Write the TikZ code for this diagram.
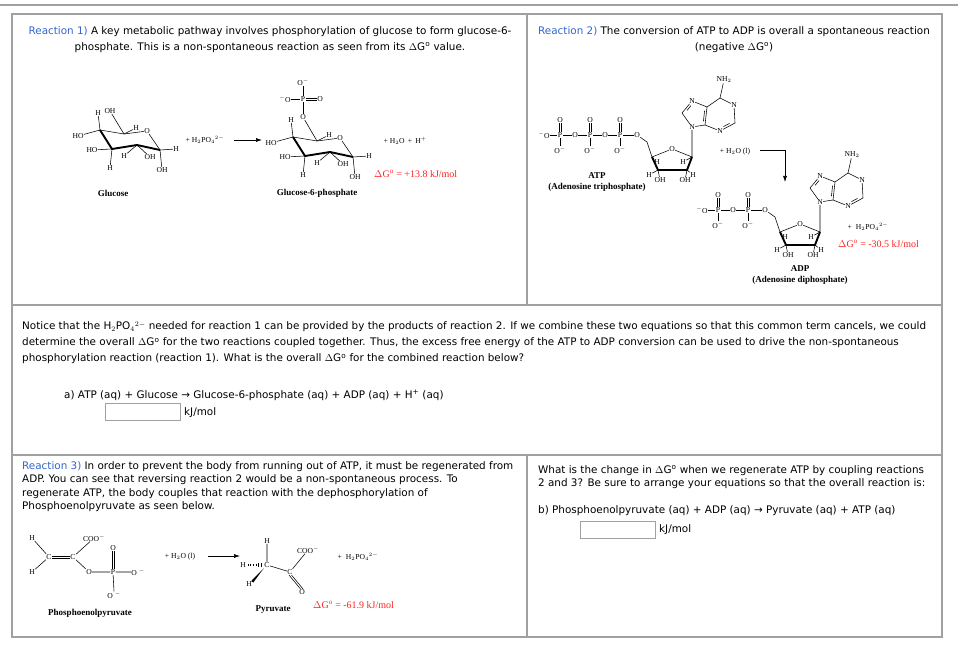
\documentclass[tikz,border=0pt]{standalone}
\usepackage{fontspec}
\setmainfont{DejaVu Sans}
\newfontfamily\ser{Liberation Serif}
\usetikzlibrary{arrows.meta,calc}
\definecolor{rblue}{HTML}{3366CC}
\definecolor{rred}{HTML}{FF2222}
\definecolor{cellg}{HTML}{A0A0A0}
\tikzset{
 txt/.style={font=\fontsize{10.4}{16}\selectfont, anchor=west, inner sep=0, align=left},
 cell/.style={draw=cellg, line width=1.6pt},
 atm/.style={font=\ser\fontsize{7.6}{8}\selectfont, inner sep=0.3pt},
 lab/.style={font=\ser\bfseries\fontsize{9}{10.5}\selectfont, inner sep=0, align=center},
 dg/.style={font=\ser\fontsize{10}{11}\selectfont, text=rred, inner sep=0, anchor=west},
 bd/.style={line width=0.55pt},
 bold/.style={line width=1.9pt},
 ans/.style={draw=cellg, line width=0.6pt, minimum width=75pt, minimum height=17pt, inner sep=0},
 arr/.style={-{Latex[length=6pt,width=4pt]}, line width=0.6pt}
}
\newcommand\glucring[1]{%
 \coordinate (c4) at (0,0); \coordinate (c3) at (12,19); \coordinate (c2) at (37,15);
 \coordinate (c1) at (60,20); \coordinate (c5) at (24,4);
 \node[atm] (ro) at (47,1) {O};
 \draw[bd] (c1) -- (ro) -- (c5) -- (c4);
 \draw[bold,line join=round] (c4) -- (c3) -- (c2) -- (c1);
 \node[atm] (h4) at (-2,-17) {H}; \draw[bd] (c4) -- (h4);
 \node[atm] (ho4) at (-22,6) {HO}; \draw[bd] (c4) -- (ho4);
 \node[atm] (ho3) at (-8,20) {HO}; \draw[bd] (c3) -- (ho3);
 \node[atm] (h3) at (10,38) {H}; \draw[bd] (c3) -- (h3);
 \node[atm] (h2) at (24,26) {H}; \draw[bd] (c2) -- (h2);
 \node[atm] (oh2) at (50,27) {OH}; \draw[bd] (c2) -- (oh2);
 \node[atm] (h1) at (76,19) {H}; \draw[bd] (c1) -- (h1);
 \node[atm] (oh1) at (62,40) {OH}; \draw[bd] (c1) -- (oh1);
 \node[atm] (h5) at (36,-2) {H}; \draw[bd] (c5) -- (h5);
 #1}
\newcommand\nucleo[1]{%
 \coordinate (r4) at (-20,8); \node[atm] (ro) at (0,0) {O}; \coordinate (r1) at (20,8);
 \coordinate (r2) at (15,21); \coordinate (r3) at (-14,21); \coordinate (r5) at (-25,-7);
 \draw[bd] (r4) -- (ro) -- (r1); \draw[bold,line join=round] (r1) -- (r2) -- (r3) -- (r4);
 \node[atm] (hh1) at (-15,13) {H}; \node[atm] (hh2) at (11,13) {H};
 \node[atm] (hh3) at (-23,26) {H}; \node[atm] (hh4) at (21,26) {H};
 \draw[bd] (r4) -- (hh1); \draw[bd] (r1) -- (hh2); \draw[bd] (r3) -- (hh3); \draw[bd] (r2) -- (hh4);
 \node[atm] (oh3) at (-12,31) {OH}; \node[atm] (oh2) at (13,31) {OH};
 \draw[bd] (r3) -- (oh3); \draw[bd] (r2) -- (oh2);
 \node[atm] (oe) at (-35,-14) {O}; \draw[bd] (r4) -- (r5) -- (oe);
 \coordinate (n9) at (20,-22);
 \coordinate (c8) at (10,-36); \coordinate (n7) at (20,-48); \coordinate (c5) at (35,-42);
 \coordinate (c4) at (33,-24); \coordinate (c6) at (48,-51); \coordinate (n1) at (62,-44);
 \coordinate (c2) at (63,-26); \coordinate (n3) at (48,-18);
 \node[atm] (N9) at (n9) {N}; \node[atm] (N7) at (n7) {N};
 \node[atm] (N1) at (n1) {N}; \node[atm] (N3) at (n3) {N};
 \node[atm] (nh) at (52,-69) {NH$_2$};
 \draw[bd] (r1) -- (N9) -- (c8) -- (N7) -- (c5) -- (c6) -- (N1) -- (c2) -- (N3) -- (c4) -- (c5);
 \draw[bd] (c4) -- (N9); \draw[bd] (c6) -- (nh);
 \draw[bd] ($(c8)!0.3!(n7)+(2,1)$) -- ($(c8)!0.7!(n7)+(2,1)$);
 \draw[bd] ($(c4)!0.2!(c5)+(-2,0)$) -- ($(c4)!0.8!(c5)+(-2,0)$);
 \draw[bd] ($(c2)!0.3!(n3)+(-1,-2)$) -- ($(c2)!0.7!(n3)+(-1,-2)$);
 \foreach \i/\px in {1/-52,2/-82,3/-112}{
  \ifnum\i>#1\relax\else
   \node[atm] (p\i) at (\px,-14) {P};
   \node[atm] (pt\i) at (\px,-29) {O}; \node[atm] (pb\i) at (\px,1) {O$^{-}$};
   \draw[bd] ($(p\i.north)+(-1,0)$) -- ($(pt\i.south)+(-1,0)$);
   \draw[bd] ($(p\i.north)+(1,0)$) -- ($(pt\i.south)+(1,0)$);
   \draw[bd] (p\i) -- (pb\i);
  \fi}
 \draw[bd] (oe) -- (p1);
 \ifnum#1>1 \node[atm] (ob1) at (-67,-14) {O}; \draw[bd] (p1) -- (ob1) -- (p2);\fi
 \ifnum#1>2 \node[atm] (ob2) at (-97,-14) {O}; \draw[bd] (p2) -- (ob2) -- (p3);\fi
 \node[atm] (om) at (-38-30*#1,-14) {$^{-}$O}; \draw[bd] (om) -- (p#1);
}
\begin{document}
\begin{tikzpicture}[x=1pt,y=-1pt]
\useasboundingbox (0,0) rectangle (958,647);
\fill[white] (0,0) rectangle (958,647);
% table
\draw[draw=cellg, line width=1.2pt] (0,5) -- (958,5);
\draw[cell] (12,14) rectangle (527,305);
\draw[cell] (527,14) rectangle (942,305);
\draw[cell] (12,305) rectangle (942,455);
\draw[cell] (12,455) rectangle (527,637);
\draw[cell] (527,455) rectangle (942,637);
% top text
\node[txt, align=center, anchor=north] (t1) at (270,26) {\textcolor{rblue}{Reaction 1)} A key metabolic pathway involves phosphorylation of glucose to form glucose-6-\\phosphate. This is a non-spontaneous reaction as seen from its $\Delta$G\textsuperscript{o} value.};
\node[txt, align=center, anchor=north] (t2) at (734,26) {\textcolor{rblue}{Reaction 2)} The conversion of ATP to ADP is overall a spontaneous reaction\\(negative $\Delta$G\textsuperscript{o})};
% glucose
\begin{scope}[shift={(100,130)}]\glucring{\node[atm] (oh6) at (10,-19) {OH}; \draw[bd] (c5) -- (oh6);}\end{scope}
\node[lab] (glc) at (113,193) {Glucose};
\node[atm] (pl1) at (205,140) {+ H$_2$PO$_4$$^{2-}$};
\coordinate (a1s) at (234,140); \coordinate (a1e) at (262,140);
\draw[arr] (a1s) -- (a1e);
\begin{scope}[shift={(293,137)}]\glucring{\node[atm] (o6) at (10,-20) {O}; \draw[bd] (c5) -- (o6);
 \node[atm] (pp) at (10,-38) {P}; \node[atm] (pu) at (10,-55) {O$^{-}$};
 \node[atm] (pl) at (-8,-38) {$^{-}$O}; \node[atm] (pr) at (27,-38) {O};
 \draw[bd] (o6) -- (pp) -- (pu); \draw[bd] (pl) -- (pp);
 \draw[bd] ($(pp.east)+(0,-1)$) -- ($(pr.west)+(0,-1)$); \draw[bd] ($(pp.east)+(0,1)$) -- ($(pr.west)+(0,1)$);}\end{scope}
\node[atm] (pl2) at (405,141) {+ H$_2$O\, +\, H$^{+}$};
\node[dg] (dg1) at (374,174) {$\Delta$G\textsuperscript{o} = +13.8 kJ/mol};
\node[lab] (g6p) at (317,193) {Glucose-6-phosphate};
% ATP / ADP
\begin{scope}[shift={(672,149)}]\nucleo{3}\end{scope}
\node[lab] (atp) at (597,182) {ATP\\(Adenosine triphosphate)};
\node[atm] (pl3) at (735,152) {+ H$_2$O (l)};
\coordinate (b1) at (760,150); \coordinate (b2) at (785,150); \coordinate (b3) at (785,182);
\draw[arr] (b1) -- (b2) -- (b3);
\begin{scope}[shift={(800,224)}]\nucleo{2}\end{scope}
\node[atm] (pl4) at (868,227) {+\; H$_2$PO$_4$$^{2-}$};
\node[dg] (dg2) at (838,244) {$\Delta$G\textsuperscript{o} = -30.5 kJ/mol};
\node[lab] (adp) at (800,275) {ADP\\(Adenosine diphosphate)};
% middle
\node[txt] (mid) at (22,343) {Notice that the H$_2$PO$_4$$^{2-}$ needed for reaction 1 can be provided by the products of reaction 2. If we combine these two equations so that this common term cancels, we could\\determine the overall $\Delta$G\textsuperscript{o} for the two reactions coupled together. Thus, the excess free energy of the ATP to ADP conversion can be used to drive the non-spontaneous\\phosphorylation reaction (reaction 1). What is the overall $\Delta$G\textsuperscript{o} for the combined reaction below?};
\node[txt] (qa) at (64,395) {a) ATP (aq) + Glucose → Glucose-6-phosphate (aq) + ADP (aq) + H\textsuperscript{+} (aq)};
\node[ans, anchor=north west] (ba) at (105,403) {};
\node[txt] (ua) at (184,413) {kJ/mol};
% bottom-left
\node[txt, anchor=north west, font=\fontsize{10.4}{13.5}\selectfont] (t3) at (22,461) {\textcolor{rblue}{Reaction 3)} In order to prevent the body from running out of ATP, it must be regenerated from\\ADP. You can see that reversing reaction 2 would be a non-spontaneous process. To\\regenerate ATP, the body couples that reaction with the dephosphorylation of\\Phosphoenolpyruvate as seen below.};
% PEP
\node[atm] (ph1) at (32,538) {H}; \node[atm] (ph2) at (32,572) {H};
\node[atm] (pc1) at (49,557) {C}; \node[atm] (pc2) at (73,557) {C};
\node[atm] (pcoo) at (94,538) {COO$^{-}$};
\node[atm] (po1) at (89,572) {O}; \node[atm] (pp) at (113,572) {P};
\node[atm] (po2) at (113,548) {O}; \node[atm] (po3) at (138,572) {O$^{\;-}$};
\node[atm] (po4) at (114,595) {O$^{\;-}$};
\draw[bd] (ph1) -- (pc1) -- (ph2);
\draw[bd] ($(pc1.east)+(0,-1.2)$) -- ($(pc2.west)+(0,-1.2)$); \draw[bd] ($(pc1.east)+(0,1.2)$) -- ($(pc2.west)+(0,1.2)$);
\draw[bd] (pc2) -- (pcoo); \draw[bd] (pc2) -- (po1) -- (pp) -- (po3.west); \draw[bd] (pp) -- (po4.north);
\draw[bd] ($(pp.north)+(-1,0)$) -- ($(po2.south)+(-1,0)$); \draw[bd] ($(pp.north)+(1,0)$) -- ($(po2.south)+(1,0)$);
\node[lab] (pepl) at (90,613) {Phosphoenolpyruvate};
\node[atm] (pl5) at (180,557) {+ H$_2$O (l)};
\coordinate (a3s) at (208,556); \coordinate (a3e) at (240,556);
\draw[arr] (a3s) -- (a3e);
% pyruvate
\node[atm] (yh1) at (267,541) {H}; \node[atm] (yc1) at (267,565) {C};
\node[atm] (yh2) at (243,565) {H}; \node[atm] (yh3) at (249,584) {H};
\node[atm] (yc2) at (290,572) {C}; \node[atm] (yo) at (302,592) {O};
\node[atm] (ycoo) at (308,550) {COO$^{-}$};
\draw[bd] (yh1) -- (yc1) -- (yc2) -- (ycoo);
\draw[bd] ($(yc2.south)+(-1,0)$) -- ($(yo.north)+(-1.5,0)$); \draw[bd] ($(yc2.south)+(1.5,0)$) -- ($(yo.north)+(1,0)$);
\foreach \t in {0.1,0.25,...,0.9}{\draw[line width=0.5pt] ($(yh2.east)!\t!(yc1.west)+(0,-0.4-1.6*\t)$) -- ($(yh2.east)!\t!(yc1.west)+(0,0.4+1.6*\t)$);}
\fill (yc1.south west) -- ($(yh3.north east)+(-1,0)$) -- ($(yh3.north east)+(1,1.5)$) -- cycle;
\node[atm] (pl6) at (358,557) {+\; H$_2$PO$_4$$^{2-}$};
\node[lab] (pyrl) at (273,610) {Pyruvate};
\node[dg] (dg3) at (313,605) {$\Delta$G\textsuperscript{o} = -61.9 kJ/mol};
% bottom-right
\node[txt, anchor=north west, font=\fontsize{10.4}{13.5}\selectfont] (t4) at (538,465) {What is the change in $\Delta$G\textsuperscript{o} when we regenerate ATP by coupling reactions\\2 and 3? Be sure to arrange your equations so that the overall reaction is:};
\node[txt] (qb) at (538,511) {b) Phosphoenolpyruvate (aq) + ADP (aq) → Pyruvate (aq) + ATP (aq)};
\node[ans, anchor=north west] (bb) at (580,521) {};
\node[txt] (ub) at (659,530) {kJ/mol};
\end{tikzpicture}
\end{document}
